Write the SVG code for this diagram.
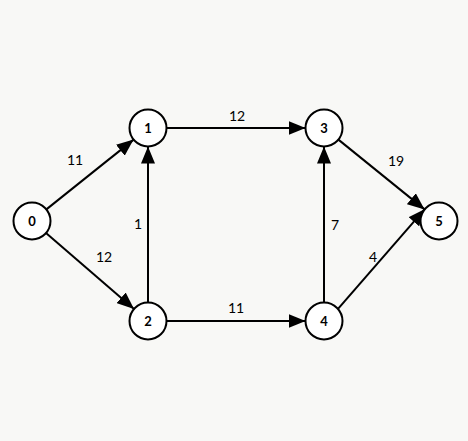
<svg xmlns="http://www.w3.org/2000/svg" width="468" height="441" viewBox="0 0 468 441">
<style>
.n circle{fill:#fff;stroke:#000;stroke-width:2}
.n text{font-family:Lato,"Liberation Sans",sans-serif;font-weight:bold;font-size:13px;text-anchor:middle;fill:#000}
.e line{stroke:#000;stroke-width:2;marker-end:url(#ah)}
.lbl{font-family:Lato,"Liberation Sans",sans-serif;font-size:14px;text-anchor:middle;fill:#000}
</style>
<defs>
<marker id="ah" markerUnits="userSpaceOnUse" markerWidth="18" markerHeight="14" refX="17" refY="7" orient="auto"><path d="M0,0 L17,7 L0,14 Z" fill="#000"/></marker>
</defs>
<rect width="468" height="441" fill="#f8f8f6"/>
<g id="edges" class="e">
<line x1="46.4" y1="209.4" x2="133.6" y2="139.6"/>
<line x1="46" y1="233.1" x2="134" y2="308.9"/>
<line x1="148" y1="302.5" x2="148" y2="146.5"/>
<line x1="166.5" y1="128" x2="305.5" y2="128"/>
<line x1="166.5" y1="321" x2="305.5" y2="321"/>
<line x1="324" y1="302.5" x2="324" y2="146.5"/>
<line x1="338.4" y1="139.6" x2="424.6" y2="209.4"/>
<line x1="338" y1="308.9" x2="425" y2="208.9"/>
</g>
<g id="labels" class="lbl">
<text x="75" y="165">11</text>
<text x="104" y="262">12</text>
<text x="138" y="229">1</text>
<text x="237" y="121">12</text>
<text x="236" y="313">11</text>
<text x="335" y="230">7</text>
<text x="396" y="166">19</text>
<text x="373" y="262">4</text>
</g>
<g id="node0" class="n"><circle cx="32" cy="221" r="18.5"/><text x="32" y="225.5">0</text></g>
<g id="node1" class="n"><circle cx="148" cy="128" r="18.5"/><text x="148" y="132.5">1</text></g>
<g id="node2" class="n"><circle cx="148" cy="321" r="18.5"/><text x="148" y="325.5">2</text></g>
<g id="node3" class="n"><circle cx="324" cy="128" r="18.5"/><text x="324" y="132.5">3</text></g>
<g id="node4" class="n"><circle cx="324" cy="321" r="18.5"/><text x="324" y="325.5">4</text></g>
<g id="node5" class="n"><circle cx="439" cy="221" r="18.5"/><text x="439" y="225.5">5</text></g>
</svg>
